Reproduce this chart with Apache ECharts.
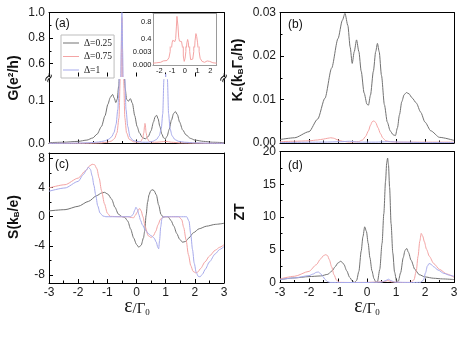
<!DOCTYPE html>
<html><head><meta charset="utf-8">
<script src="https://cdn.jsdelivr.net/npm/echarts@6/dist/echarts.min.js"></script>
<style>html,body{margin:0;padding:0;background:#fff}#c{width:474px;height:364px}</style>
</head><body><div id="c"></div>
<script>
// ---------- DATA ----------
const seriesNames = ['Δ=0.25', 'Δ=0.75', 'Δ=1'];
const xTickLabels = [-3, -2, -1, 0, 1, 2, 3];

// (a) conductance G
const aGrayX = [-3,-2.5,-2,-1.7,-1.5,-1.35,-1.2,-1.08,-0.98,-0.9,-0.82,-0.76,-0.71,-0.66,-0.61,-0.56,-0.5,-0.44,-0.39,-0.34,-0.28,-0.21,-0.14,-0.06,0.02,0.1,0.2,0.3,0.4,0.5,0.58,0.64,0.69,0.74,0.8,0.87,0.93,0.99,1.05,1.12,1.2,1.27,1.33,1.4,1.48,1.58,1.7,1.85,2.0,2.3,2.6,3.0];
const aGrayY = [0.002,0.003,0.005,0.008,0.013,0.022,0.04,0.065,0.092,0.108,0.115,0.106,0.096,0.104,0.135,0.2,0.33,0.2,0.13,0.104,0.099,0.105,0.094,0.065,0.04,0.025,0.014,0.011,0.016,0.03,0.05,0.063,0.066,0.058,0.04,0.022,0.013,0.011,0.017,0.033,0.055,0.07,0.075,0.068,0.05,0.032,0.02,0.012,0.008,0.005,0.003,0.002];
const aPinkX = [-3,-2,-1.5,-1.2,-1,-0.85,-0.75,-0.67,-0.6,-0.56,-0.53,-0.51,-0.5,-0.49,-0.47,-0.44,-0.4,-0.34,-0.25,-0.1,0.05,0.15,0.21,0.25,0.28,0.29,0.3,0.33,0.37,0.43,0.55,0.7,0.85,1.0,1.2,1.5,2,2.5,3];
const aPinkY = [0.0002,0.0004,0.0008,0.0015,0.003,0.006,0.012,0.025,0.06,0.15,0.45,0.85,0.96,0.85,0.45,0.15,0.06,0.025,0.01,0.004,0.003,0.005,0.012,0.025,0.042,0.047,0.044,0.025,0.012,0.005,0.003,0.003,0.004,0.005,0.003,0.0015,0.0008,0.0004,0.0002];
const aBlueX = [-3,-2.5,-2,-1.6,-1.3,-1.1,-0.95,-0.85,-0.77,-0.7,-0.64,-0.6,-0.57,-0.545,-0.525,-0.51,-0.5,-0.49,-0.475,-0.455,-0.43,-0.4,-0.36,-0.3,-0.22,-0.12,0,0.2,0.4,0.55,0.68,0.78,0.85,0.9,0.94,0.97,0.99,1.0,1.01,1.03,1.06,1.1,1.15,1.22,1.32,1.45,1.65,2.0,2.5,3.0];
const aBlueY = [0.0004,0.0006,0.001,0.0018,0.0035,0.006,0.01,0.016,0.026,0.045,0.08,0.13,0.22,0.4,0.7,0.93,1.0,0.93,0.7,0.4,0.24,0.15,0.08,0.04,0.015,0.007,0.005,0.003,0.003,0.005,0.009,0.018,0.035,0.07,0.15,0.33,0.48,0.52,0.48,0.33,0.15,0.07,0.035,0.018,0.009,0.005,0.003,0.0015,0.0007,0.0004];
// (a) inset
const insetX = [-2.5,-2.2,-1.9,-1.7,-1.55,-1.4,-1.25,-1.15,-1.07,-1.0,-0.95,-0.9,-0.84,-0.78,-0.72,-0.66,-0.62,-0.6,-0.58,-0.54,-0.48,-0.42,-0.36,-0.31,-0.26,-0.2,-0.16,-0.12,-0.05,0.02,0.08,0.12,0.16,0.22,0.28,0.33,0.38,0.45,0.53,0.62,0.7,0.75,0.8,0.87,0.93,1.0,1.06,1.12,1.2,1.35,1.55,1.75,1.85,1.95,2.2,2.5];
const insetY = [0.0004,0.0005,0.0006,0.0009,0.0011,0.001,0.0016,0.003,0.1,0.3,0.36,0.38,0.35,0.33,0.4,0.7,0.93,0.96,0.93,0.7,0.42,0.34,0.37,0.38,0.33,0.22,0.05,0.002,0.0008,0.0015,0.003,0.05,0.3,0.38,0.3,0.05,0.003,0.0012,0.0008,0.0013,0.003,0.08,0.35,0.52,0.45,0.3,0.08,0.003,0.0015,0.0008,0.0006,0.0009,0.0011,0.0008,0.0005,0.0004];
const insetXLabels = [-2, -1, 0, 1, 2];

// (b) thermal conductance
const bGrayX = [-3,-2.5,-2.0,-1.7,-1.45,-1.22,-1.0,-0.85,-0.76,-0.66,-0.58,-0.51,-0.44,-0.36,-0.28,-0.2,-0.1,0.0,0.05,0.12,0.22,0.3,0.36,0.42,0.5,0.6,0.7,0.8,0.9,0.98,1.05,1.12,1.2,1.28,1.36,1.45,1.55,1.7,1.85,2.0,2.2,2.5,3.0];
const bGrayY = [0.0008,0.0012,0.0026,0.0055,0.0103,0.0172,0.024,0.0282,0.0298,0.027,0.022,0.0183,0.021,0.0237,0.021,0.0165,0.0115,0.0089,0.0087,0.011,0.0165,0.021,0.0229,0.021,0.0155,0.0088,0.0048,0.0028,0.0019,0.0017,0.0035,0.0065,0.0095,0.0111,0.0116,0.0113,0.0104,0.0092,0.0071,0.0048,0.0028,0.0013,0.0006];
const bPinkX = [-3,-2.5,-2,-1.7,-1.5,-1.35,-1.25,-1.15,-1.0,-0.85,-0.6,-0.3,-0.15,-0.05,0.05,0.12,0.18,0.24,0.3,0.38,0.46,0.55,0.65,0.8,1.0,1.5,2.0,2.5,3.0];
const bPinkY = [0.0003,0.0004,0.0005,0.0007,0.0009,0.0011,0.0012,0.0011,0.0007,0.0004,0.0002,0.0003,0.0007,0.0015,0.0028,0.0041,0.0049,0.0051,0.0047,0.0035,0.0022,0.0011,0.0005,0.0003,0.0002,0.0002,0.0002,0.0002,0.0002];
const bBlueX = [-3,-1.5,-0.9,-0.6,-0.3,0.3,0.7,1.2,2,3];
const bBlueY = [0.0001,0.0002,0.0003,0.0004,0.0002,0.0002,0.0003,0.0002,0.0001,0.0001];

// (c) thermopower S
const cGrayX = [-3,-2.45,-2.0,-1.65,-1.36,-1.2,-1.1,-0.98,-0.85,-0.74,-0.62,-0.5,-0.4,-0.3,-0.2,-0.1,0.0,0.08,0.16,0.24,0.28,0.33,0.38,0.43,0.48,0.53,0.6,0.68,0.76,0.84,0.92,1.0,1.08,1.18,1.28,1.38,1.48,1.58,1.68,1.8,1.95,2.15,2.4,2.7,3.0];
const cGrayY = [0.8,0.97,1.43,2.1,2.9,3.25,3.35,3.1,2.4,1.3,0.35,0.02,-0.1,-0.6,-1.7,-2.9,-3.8,-4.2,-3.9,-2.9,-2.0,0.2,2.0,3.0,3.5,3.72,3.6,3.0,1.6,0.3,-0.05,0,0,-0.5,-1.3,-2.3,-3.1,-3.5,-3.4,-2.9,-2.2,-1.65,-1.3,-1.05,-0.9];
const cPinkX = [-3,-2.45,-2.0,-1.75,-1.6,-1.52,-1.44,-1.36,-1.28,-1.2,-1.1,-1.0,-0.9,-0.6,-0.3,-0.18,-0.1,-0.04,0.02,0.08,0.12,0.16,0.22,0.3,0.4,0.5,0.58,0.66,0.74,0.82,0.92,1.2,1.45,1.55,1.62,1.7,1.78,1.86,1.94,2.02,2.1,2.2,2.35,2.5,2.7,2.85,3.0];
const cPinkY = [3.95,4.4,5.3,6.3,7.0,7.2,7.15,6.6,5.3,3.6,1.8,0.5,0.05,0,0,-0.1,-0.15,0.2,0.6,1.05,1.1,0.8,0.0,-1.4,-2.6,-2.85,-2.6,-2.0,-1.1,-0.35,0,0,0,-0.4,-1.5,-3.2,-5.2,-6.7,-7.5,-7.7,-7.6,-7.1,-6.2,-5.4,-4.6,-4.2,-3.85];
const cBlueX = [-3,-2.45,-2.0,-1.82,-1.72,-1.65,-1.58,-1.52,-1.46,-1.4,-1.33,-1.25,-1.15,-1.05,-0.6,-0.2,-0.12,-0.06,-0.02,0.03,0.08,0.14,0.2,0.3,0.4,0.5,0.6,0.68,0.73,0.76,0.79,0.83,0.87,0.92,1.2,1.5,1.72,1.8,1.86,1.92,1.98,2.05,2.12,2.18,2.26,2.36,2.5,2.7,2.85,3.0];
const cBlueY = [3.5,3.95,4.85,5.8,6.4,6.8,6.5,5.6,4.3,3.0,1.5,0.5,0.1,0,0,0,0.3,0.9,1.3,1.0,0.3,-0.5,-1.1,-1.8,-2.3,-2.6,-2.9,-3.5,-4.2,-4.4,-3.3,-1.4,-0.3,0,0,0,0,-0.6,-2.4,-4.5,-6.4,-7.7,-8.2,-8.25,-7.9,-7.2,-6.2,-5.1,-4.5,-4.1];

// (d) figure of merit ZT
const dGrayX = [-3,-2.5,-2.0,-1.6,-1.35,-1.2,-1.1,-1.0,-0.9,-0.8,-0.7,-0.6,-0.5,-0.43,-0.36,-0.28,-0.2,-0.14,-0.08,-0.02,0.04,0.1,0.17,0.24,0.3,0.36,0.44,0.52,0.58,0.64,0.68,0.71,0.74,0.78,0.83,0.89,0.95,1.02,1.08,1.16,1.25,1.31,1.37,1.43,1.52,1.65,1.8,2.0,2.3,2.6,3.0];
const dGrayY = [0.45,0.7,0.9,1.0,1.25,1.8,2.4,3.0,3.25,2.8,1.8,0.8,0.2,0.02,0.3,1.7,4.8,7.0,8.5,7.8,6.0,3.8,1.8,0.6,0.1,0.1,2.0,6.0,10.5,15.5,18.3,19.0,18.0,14.5,9.0,4.5,1.6,0.2,0.2,1.5,3.8,4.9,5.2,4.6,3.4,2.0,1.2,0.85,0.65,0.55,0.45];
const dPinkX = [-3,-2.5,-2.0,-1.75,-1.6,-1.5,-1.42,-1.36,-1.3,-1.22,-1.14,-1.05,-0.95,-0.5,0,0.3,0.6,0.72,0.85,1.2,1.5,1.62,1.7,1.76,1.82,1.87,1.92,1.98,2.05,2.15,2.3,2.5,2.75,3.0];
const dPinkY = [0.55,0.95,1.7,2.7,3.6,4.1,4.25,4.1,3.5,2.4,1.2,0.35,0.02,0,0.02,0.05,0.15,0.3,0.1,0,0.02,0.4,1.8,4.0,6.3,7.5,7.1,6.2,5.1,4.0,2.9,2.0,1.3,0.8];
const dBlueX = [-3,-2.5,-2.0,-1.85,-1.75,-1.68,-1.6,-1.52,-1.44,-1.36,-1.28,-0.8,0,0.5,0.65,0.74,0.82,0.95,1.5,1.85,1.95,2.02,2.08,2.14,2.2,2.3,2.45,2.65,2.85,3.0];
const dBlueY = [0.45,0.7,1.05,1.3,1.55,1.6,1.35,0.9,0.45,0.12,0.01,0,0,0.05,0.3,0.5,0.3,0.05,0,0.02,0.4,1.5,2.5,2.9,2.8,2.4,1.9,1.4,1.1,0.95];

// tick label values
const aUpperLabels = [0.6, 0.8, 1.0];
const aLowerLabels = [0.0, 0.1];
const bLabels = [0, 0.01, 0.02, 0.03];
const cLabels = [-8, -4, 0, 4, 8];
const dLabels = [0, 5, 10, 15, 20];
const insetUpperLabels = [0.4, 0.8];
const insetLowerLabels = [0.000, 0.003];

// ---------- BUILD ----------
const COL = {gray: '#727272', pink: '#f4a4a4', blue: '#a7aaec'};
const FONT = 'Liberation Sans, Arial, sans-serif';
const grid = [], xAxis = [], yAxis = [], series = [];
function range(a, b, s) { const r = []; for (let v = a; v <= b + 1e-9; v += s) r.push(+v.toFixed(6)); return r; }

function panel(box, xc, yc) {
  grid.push({left: box[0], top: box[1], width: box[2], height: box[3]});
  const g = grid.length - 1;
  const xcol = xc.color || '#000', ycol = yc.color || '#000';
  const fs = xc.fs || 12;
  const xi = xAxis.length;
  xAxis.push({type: 'value', gridIndex: g, position: 'bottom', min: xc.min, max: xc.max,
    axisLine: {show: xc.bottom !== false, onZero: false, lineStyle: {color: xcol, width: 1}},
    axisTick: {show: true, inside: true, length: xc.tl || 4, customValues: xc.major, lineStyle: {color: xcol}},
    axisLabel: {show: !!xc.labels, customValues: xc.labels || [], showMinLabel: true, showMaxLabel: true,
      formatter: xc.fmt || (v => String(v)), margin: xc.margin || 4, fontFamily: FONT, fontSize: fs, color: '#1a1a1a'},
    splitLine: {show: false}});
  xAxis.push({type: 'value', gridIndex: g, position: 'bottom', min: xc.min, max: xc.max,
    axisLine: {show: false, onZero: false}, axisTick: {show: !!xc.minor, inside: true, length: xc.ml || 2.5, customValues: xc.minor || [], lineStyle: {color: xcol}},
    axisLabel: {show: false}, splitLine: {show: false}});
  xAxis.push({type: 'value', gridIndex: g, position: 'top', min: xc.min, max: xc.max,
    axisLine: {show: xc.top !== false, onZero: false, lineStyle: {color: xcol, width: 1}},
    axisTick: {show: false}, axisLabel: {show: false}, splitLine: {show: false}});
  const yi = yAxis.length;
  yAxis.push({type: 'value', gridIndex: g, position: 'left', min: yc.min, max: yc.max,
    axisLine: {show: true, onZero: false, lineStyle: {color: ycol, width: 1}},
    axisTick: {show: !!yc.major, inside: true, length: yc.tl || 4, customValues: yc.major || [], lineStyle: {color: ycol}},
    axisLabel: {show: !!yc.labels, customValues: yc.labels || [], showMinLabel: true, showMaxLabel: true,
      formatter: yc.fmt || (v => String(v)), margin: yc.margin || 4, fontFamily: FONT, fontSize: yc.fs || 12, color: '#1a1a1a'},
    splitLine: {show: false}});
  yAxis.push({type: 'value', gridIndex: g, position: 'left', min: yc.min, max: yc.max,
    axisLine: {show: false, onZero: false}, axisTick: {show: !!yc.minor, inside: true, length: yc.ml || 2.5, customValues: yc.minor || [], lineStyle: {color: ycol}},
    axisLabel: {show: false}, splitLine: {show: false}});
  yAxis.push({type: 'value', gridIndex: g, position: 'right', min: yc.min, max: yc.max,
    axisLine: {show: true, onZero: false, lineStyle: {color: ycol, width: 1}},
    axisTick: {show: false}, axisLabel: {show: false}, splitLine: {show: false}});
  return {xi, yi};
}
function line(p, name, xs, ys, color, smooth) {
  series.push({type: 'line', name, xAxisIndex: p.xi, yAxisIndex: p.yi,
    data: xs.map((x, i) => [x, ys[i]]), showSymbol: false, symbol: 'none',
    smooth: smooth === undefined ? 0.25 : smooth, smoothMonotone: 'x', clip: true, silent: true,
    lineStyle: {color, width: 1}, itemStyle: {color}});
}
const xMajor = range(-3, 3, 1), xMinor = range(-2.5, 2.5, 1);
const xBase = {min: -3, max: 3, major: xMajor, minor: xMinor};

// (a) lower and upper segments
const pAlo = panel([49, 79.5, 175, 64], Object.assign({}, xBase, {top: false}),
  {min: 0, max: 0.15, major: [0, 0.1], minor: [0.05], labels: aLowerLabels, fmt: v => v.toFixed(1)});
const pAhi = panel([49, 12.5, 175, 64], {min: -3, max: 3, bottom: false},
  {min: 0.5, max: 1.0, major: [0.6, 0.8, 1.0], minor: [0.7, 0.9], labels: aUpperLabels, fmt: v => v.toFixed(1)});
const pB = panel([280, 12.5, 174, 130.5], xBase,
  {min: 0, max: 0.03, major: bLabels, minor: [0.005, 0.015, 0.025], labels: bLabels, fmt: v => v.toFixed(2)});
const pC = panel([49, 153, 175, 130], Object.assign({}, xBase, {labels: xTickLabels}),
  {min: -9.1, max: 8.75, major: cLabels, minor: [-6, -2, 2, 6], labels: cLabels});
const pD = panel([280, 151.5, 174, 131], Object.assign({}, xBase, {labels: xTickLabels}),
  {min: 0, max: 20, major: dLabels, minor: [2.5, 7.5, 12.5, 17.5], labels: dLabels});
// inset
const IC = '#9a9a9a';
const pIlo = panel([153, 47, 63.7, 18], {min: -2.5, max: 2.5, major: [], labels: insetXLabels, fs: 7.5, margin: 1.5, color: IC, top: false},
  {min: 0, max: 0.004, labels: insetLowerLabels, fmt: v => v.toFixed(3), fs: 7.5, margin: 1.5, color: IC});
const pIhi = panel([153, 13.5, 63.7, 33.5], {min: -2.5, max: 2.5, major: [], bottom: false, color: IC},
  {min: 0.2, max: 1.0, labels: insetUpperLabels, fmt: v => v.toFixed(1), fs: 7.5, margin: 1.5, color: IC});

[pAlo, pAhi].forEach(p => {
  line(p, seriesNames[0], aGrayX, aGrayY, COL.gray);
  line(p, seriesNames[1], aPinkX, aPinkY, COL.pink);
  line(p, seriesNames[2], aBlueX, aBlueY, COL.blue);
});
[pIlo, pIhi].forEach(p => line(p, seriesNames[1], insetX, insetY, COL.pink, false));
line(pB, seriesNames[0], bGrayX, bGrayY, COL.gray);
line(pB, seriesNames[1], bPinkX, bPinkY, COL.pink);
line(pB, seriesNames[2], bBlueX, bBlueY, COL.blue);
line(pC, seriesNames[0], cGrayX, cGrayY, COL.gray);
line(pC, seriesNames[1], cPinkX, cPinkY, COL.pink);
line(pC, seriesNames[2], cBlueX, cBlueY, COL.blue);
line(pD, seriesNames[0], dGrayX, dGrayY, COL.gray);
line(pD, seriesNames[1], dPinkX, dPinkY, COL.pink);
line(pD, seriesNames[2], dBlueX, dBlueY, COL.blue);

const bold = {fontFamily: FONT, fontWeight: 'bold', fontSize: 14, lineHeight: 16, verticalAlign: 'bottom', fill: '#111'};
const sub = {fontFamily: FONT, fontWeight: 'bold', fontSize: 8, lineHeight: 6, verticalAlign: 'bottom', fill: '#111'};
function vtitle(x, y, text) {
  return {type: 'text', x, y, rotation: Math.PI / 2, z: 10,
    style: {text, textAlign: 'center', textVerticalAlign: 'middle', align: 'center', verticalAlign: 'middle',
      rich: {b: bold, s: sub}}};
}
function xtitle(x, y) {
  return {type: 'text', x, y, z: 10,
    style: {text: '{e|ε}{g|/Γ}{z|0}', textAlign: 'center', textVerticalAlign: 'middle', align: 'center', verticalAlign: 'middle',
      rich: {e: {fontFamily: 'Liberation Serif', fontSize: 20, lineHeight: 20, verticalAlign: 'bottom', fill: '#111'},
             g: {fontFamily: 'Liberation Serif', fontSize: 15, lineHeight: 18, verticalAlign: 'bottom', fill: '#111'},
             z: {fontFamily: 'Liberation Serif', fontSize: 9, lineHeight: 4, verticalAlign: 'bottom', fill: '#111'}}}};
}
function letter(x, y, t) {
  return {type: 'text', x, y, z: 10, style: {text: t, font: '12px ' + FONT, fill: '#111', textAlign: 'left', textVerticalAlign: 'top', align: 'left', verticalAlign: 'top'}};
}
function brk(x, y) {
  return {type: 'text', x, y, rotation: 1.0, z: 10, style: {text: '≈', font: '13px DejaVu Sans', fill: '#111', textAlign: 'center', textVerticalAlign: 'middle', align: 'center', verticalAlign: 'middle'}};
}

const option = {
  animation: false,
  backgroundColor: '#fff',
  grid, xAxis, yAxis, series,
  legend: {data: seriesNames, orient: 'vertical', left: 61, top: 35, itemWidth: 16, itemHeight: 1, itemGap: 1.5,
    icon: 'rect', padding: [2, 2, 2, 2], borderColor: '#bdbdbd', borderWidth: 1, selectedMode: false,
    textStyle: {fontFamily: 'Liberation Serif', fontSize: 9.5, lineHeight: 12, color: '#222'}},
  graphic: [
    letter(55, 18, '(a)'), letter(288, 19, '(b)'), letter(55, 159, '(c)'), letter(288, 160, '(d)'),
    vtitle(13, 78, '{b|G(e²/h)}'),
    vtitle(13, 217, '{b|S(k}{s|B}{b|/e)}'),
    vtitle(237, 70, '{b|Κ}{s|e}{b|(k}{s|B}{b|Γ}{s|0}{b|/h)}'),
    vtitle(239, 212, '{b|ZT}'),
    xtitle(137, 307), xtitle(367, 307),
    brk(49, 78), brk(224, 78)
  ]
};
const chart = echarts.init(document.getElementById('c'), null, {renderer: 'canvas'});
chart.setOption(option);
</script>
</body></html>
